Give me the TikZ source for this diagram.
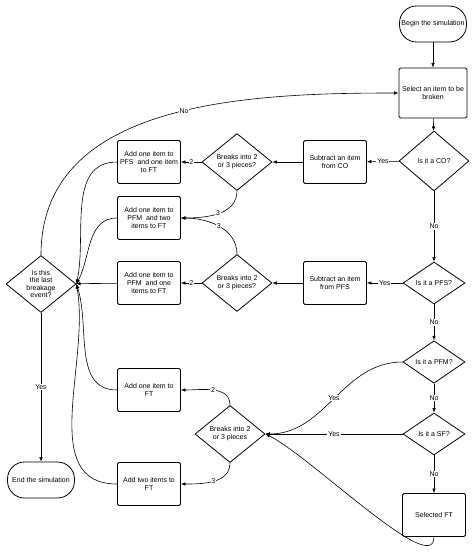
\documentclass[tikz,border=0pt]{standalone}
\usepackage{fontspec}
\setmainfont{Liberation Sans}
\usetikzlibrary{shapes.geometric,arrows.meta}
\begin{document}
\begin{tikzpicture}[x=1pt,y=-1pt,
  every node/.style={font=\fontsize{7}{8}\selectfont, align=center},
  termbox/.style={draw, line width=0.8pt, rectangle, rounded corners=17pt, minimum width=67pt, minimum height=36pt, inner sep=1pt},
  procbox/.style={draw, line width=0.8pt, rectangle, rounded corners=1.5pt, minimum width=63pt, minimum height=43pt, inner sep=1pt},
  choice/.style={draw, line width=0.8pt, diamond, inner sep=0pt, minimum width=62pt, minimum height=42pt},
  bigchoice/.style={choice, minimum width=70pt, minimum height=57pt},
  lbl/.style={fill=white, inner sep=0.8pt},
  flow/.style={-{Latex[length=4.5pt,width=3.5pt]}, line width=0.6pt}]
\useasboundingbox (0,0) rectangle (474,559);
\node[termbox] (begin) at (433,24) {Begin the simulation};
\node[procbox, minimum width=68pt, minimum height=50pt] (select) at (433,93) {Select an item to be\\broken};
\node[bigchoice, minimum height=60pt] (isco) at (434,161) {Is it a CO?};
\node[procbox] (subco) at (335,162) {Subtract an item\\from CO};
\node[bigchoice] (breaksa) at (237,162) {Breaks into 2\\or 3 pieces?};
\node[procbox] (addpfs) at (149,162) {Add one item to\\PFS\ \ and one item\\to FT};
\node[procbox] (addpfmtwo) at (149,218) {Add one item to\\PFM\ \ and two\\items to FT};
\node[procbox] (addpfmone) at (149,283) {Add one item to\\PFM\ \ and one\\items to FT};
\node[bigchoice, font=\fontsize{7}{7.4}\selectfont, shape aspect=1.2] (lastev) at (41,284) {Is this\\the last\\breakage\\event?};
\node[choice] (ispfs) at (434,283) {Is it a PFS?};
\node[procbox] (subpfs) at (335,283) {Subtract an item\\from PFS};
\node[bigchoice] (breaksb) at (237,283) {Breaks into 2\\or 3 pieces?};
\node[choice] (ispfm) at (434,362) {Is it a PFM?};
\node[choice] (issf) at (434,434) {Is it a SF?};
\node[procbox] (selft) at (434,515) {Selected FT};
\node[bigchoice] (breaksc) at (230,434) {Breaks into 2\\or 3 pieces};
\node[procbox] (addft) at (149,390) {Add one item to\\FT};
\node[procbox] (addtwoft) at (149,484) {Add two items to\\FT};
\node[termbox] (endsim) at (41,480) {End the simulation};

\draw[flow] (begin) -- (select);
\draw[flow] (select) -- (isco);
\draw[flow] (isco) -- node[lbl] {Yes} (subco);
\draw[flow] (subco) -- (breaksa);
\draw[flow] (breaksa) -- node[lbl] {2} (addpfs);
\draw[flow] (breaksa.south) to[out=-90,in=0] node[lbl] {3} (addpfmtwo.east);
\draw[flow] (isco) -- node[lbl] {No} (ispfs);
\draw[flow] (ispfs) -- node[lbl] {Yes} (subpfs);
\draw[flow] (subpfs) -- (breaksb);
\draw[flow] (breaksb) -- node[lbl] {2} (addpfmone);
\draw[flow] (breaksb.north) to[out=90,in=0] node[lbl] {3} (addpfmtwo.east);
\draw[flow] (ispfs) -- node[lbl] {No} (ispfm);
\draw[flow] (ispfm.west) to[out=180,in=0] node[lbl] {Yes} (breaksc.east);
\draw[flow] (ispfm) -- node[lbl] {No} (issf);
\draw[flow] (issf) -- node[lbl] {Yes} (breaksc);
\draw[flow] (issf) -- node[lbl] {No} (selft);
\draw[flow] (selft.south) .. controls +(0,42) and +(45,22) .. (breaksc.east);
\draw[flow] (breaksc.north) to[out=90,in=0] node[lbl] {2} (addft.east);
\draw[flow] (breaksc.south) to[out=-90,in=0] node[lbl] {3} (addtwoft.east);
\draw[flow] (addpfs.west) to[out=180,in=78] (lastev.east);
\draw[flow] (addpfmtwo.west) to[out=180,in=62] (lastev.east);
\draw[flow] (addpfmone) -- (lastev);
\draw[flow] (addft.west) to[out=180,in=-72] (lastev.east);
\draw[flow] (addtwoft.west) to[out=180,in=-80] (lastev.east);
\draw[flow] (lastev.north) to[out=90,in=180] node[lbl, pos=0.55] {No} (select.west);
\draw[flow] (lastev) -- node[lbl] {Yes} (endsim);
\end{tikzpicture}
\end{document}
